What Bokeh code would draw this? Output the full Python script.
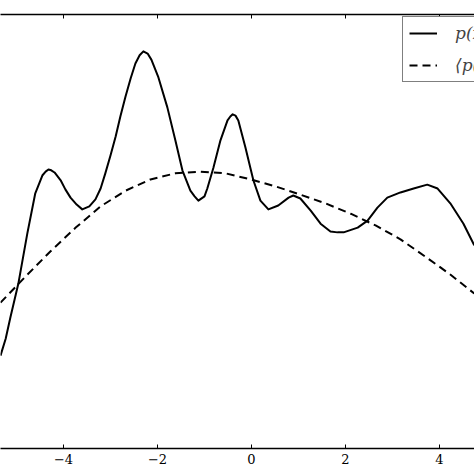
from bokeh.plotting import figure
from bokeh.models import Range1d, LinearAxis, Legend, LegendItem, FixedTicker
from bokeh.embed import file_html
from bokeh.resources import INLINE

# Solid curve: p(x)
x_p = [-5.34, -5.23, -5.13, -4.96, -4.77, -4.60, -4.45, -4.38, -4.32, -4.26,
       -4.19, -4.06, -3.96, -3.85, -3.72, -3.60, -3.45, -3.32, -3.21, -3.11,
       -3.00, -2.89, -2.79, -2.68, -2.57, -2.47, -2.38, -2.30, -2.21, -2.13,
       -1.98, -1.79, -1.62, -1.47, -1.30, -1.21, -1.13, -1.00, -0.94, -0.81,
       -0.66, -0.51, -0.45, -0.40, -0.34, -0.28, -0.13, 0.04, 0.19, 0.36,
       0.57, 0.79, 0.89, 1.04, 1.26, 1.47, 1.68, 1.83, 1.96, 2.26,
       2.47, 2.68, 2.89, 3.17, 3.45, 3.74, 3.96, 4.23, 4.51, 4.74]
y_p = [0.214, 0.253, 0.302, 0.380, 0.495, 0.588, 0.629, 0.638, 0.643, 0.641,
       0.636, 0.618, 0.597, 0.578, 0.562, 0.551, 0.558, 0.574, 0.599, 0.634,
       0.675, 0.719, 0.765, 0.811, 0.853, 0.887, 0.906, 0.915, 0.910, 0.896,
       0.855, 0.786, 0.710, 0.641, 0.594, 0.581, 0.571, 0.581, 0.599, 0.647,
       0.710, 0.756, 0.765, 0.770, 0.767, 0.756, 0.694, 0.618, 0.571, 0.551,
       0.560, 0.578, 0.583, 0.576, 0.548, 0.518, 0.500, 0.498, 0.498, 0.509,
       0.525, 0.555, 0.578, 0.590, 0.599, 0.608, 0.599, 0.565, 0.518, 0.468]

# Dashed curve: <p(x)>
x_m = [-5.34, -4.81, -4.28, -3.74, -3.21, -2.68, -2.15, -1.62, -1.09, -0.55,
       -0.02, 0.51, 1.04, 1.57, 2.11, 2.64, 3.17, 3.70, 4.23, 4.74]
y_m = [0.336, 0.396, 0.454, 0.509, 0.558, 0.594, 0.620, 0.634, 0.638, 0.634,
       0.620, 0.604, 0.585, 0.565, 0.541, 0.514, 0.482, 0.442, 0.401, 0.357]

tick_values = [-4, -2, 0, 2, 4]
tick_labels = ["\u22124", "\u22122", "0", "2", "4"]
legend_labels = ["p(x)", "\u27e8p(x)\u27e9"]

p = figure(width=474, height=474, output_backend="svg", toolbar_location=None,
           x_range=Range1d(-5.340, 4.745), y_range=Range1d(0, 1),
           min_border_left=0, min_border_right=0, min_border_top=14,
           min_border_bottom=26, x_axis_location=None, y_axis_location=None)
p.outline_line_color = None
p.xgrid.visible = False
p.ygrid.visible = False
p.background_fill_color = "white"
p.border_fill_color = "white"

def make_axis(show_labels):
    ax = LinearAxis(ticker=FixedTicker(ticks=tick_values))
    ax.major_label_overrides = {v: (l if show_labels else "") for v, l in zip(tick_values, tick_labels)}
    ax.major_tick_in = 4
    ax.major_tick_out = 0
    ax.minor_tick_in = 0
    ax.minor_tick_out = 0
    ax.axis_line_width = 1.6
    ax.axis_line_color = "black"
    ax.major_tick_line_color = "black"
    ax.major_tick_line_width = 1
    ax.major_label_text_font = "DejaVu Serif"
    ax.major_label_text_color = "black"
    if show_labels:
        ax.major_label_text_font_size = "13px"
        ax.major_label_standoff = 5
    else:
        ax.major_label_text_font_size = "0px"
        ax.major_label_standoff = 0
    return ax

p.add_layout(make_axis(True), "below")
p.add_layout(make_axis(False), "above")

r1 = p.line(x_p, y_p, line_color="black", line_width=2, line_join="round")
r2 = p.line(x_m, y_m, line_color="black", line_width=2, line_dash="8 5")

legend = Legend(items=[LegendItem(label=legend_labels[0], renderers=[r1]),
                       LegendItem(label=legend_labels[1], renderers=[r2])],
                location=(402, 366))
legend.padding = 6
legend.spacing = 12
legend.label_height = 18
legend.glyph_height = 18
legend.glyph_width = 28
legend.label_standoff = 18
legend.margin = 0
legend.border_line_color = "black"
legend.border_line_width = 1.5
legend.background_fill_color = "white"
legend.background_fill_alpha = 1
legend.label_text_font = "DejaVu Serif"
legend.label_text_font_style = "italic"
legend.label_text_font_size = "17px"
p.add_layout(legend, "center")

open("out.html", "w").write(file_html(p, INLINE))
